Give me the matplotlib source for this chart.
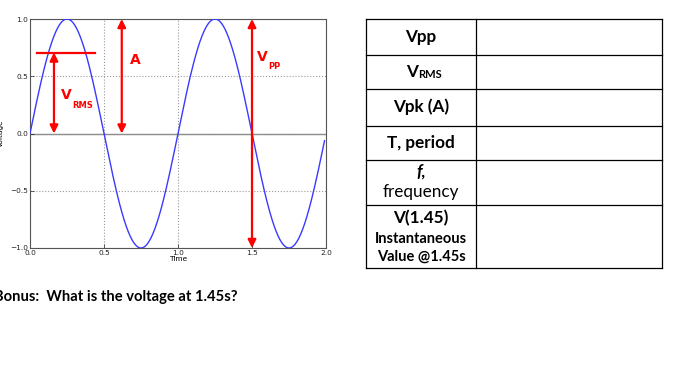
import matplotlib
matplotlib.use("Agg")
import matplotlib.pyplot as plt
import numpy as np

# waveform shown in the chart
amplitude = 1.0
freq_hz = 1.0
t_start, t_end = 0.0, 1.99
v_rms = 0.707

xticks = [0.0, 0.5, 1.0, 1.5, 2.0]
yticks = [-1.0, -0.5, 0.0, 0.5, 1.0]

# table rows (left column text)
row_edges = [19, 55, 89, 126, 160, 205, 268]

red = "#ff0000"
W, H = 680, 373

fig = plt.figure(figsize=(6.8, 3.73), dpi=100)
ax = fig.add_axes([30 / W, 1 - 248 / H, 296 / W, 229 / H])

t = np.linspace(t_start, t_end, 600)
v = amplitude * np.sin(2 * np.pi * freq_hz * t)
ax.plot(t, v, color="#3a3aff", lw=1.0, zorder=3)

ax.set_xlim(0, 2)
ax.set_ylim(-1, 1)
ax.set_xticks(xticks)
ax.set_yticks(yticks)
ax.grid(True, color="#999999", linestyle=":", linewidth=0.8)
ax.axhline(0, color="#888888", lw=1.0, zorder=1)
ax.tick_params(labelsize=5.3, direction="in", length=3, width=0.5, pad=1.5, colors="#222222")
for s in ax.spines.values():
    s.set_color("#555555")
    s.set_linewidth(0.8)
ax.set_xlabel("Time", fontsize=5.3, labelpad=0)
ax.set_ylabel("Voltage", fontsize=5.3, labelpad=4)

aprops = dict(arrowstyle="<|-|>", color=red, lw=1.6, mutation_scale=12, shrinkA=0, shrinkB=0)
# V_RMS
ax.annotate("", xy=(0.162, v_rms), xytext=(0.162, 0), arrowprops=aprops, zorder=4)
ax.plot([0.05, 0.44], [v_rms, v_rms], color=red, lw=1.6, zorder=4)
ax.text(0.21, 0.30, "V", color=red, fontsize=10, fontweight="bold", va="baseline")
ax.text(0.285, 0.22, "RMS", color=red, fontsize=6, fontweight="bold", va="baseline")
# A
ax.annotate("", xy=(0.62, 1.0), xytext=(0.62, 0), arrowprops=aprops, zorder=4)
ax.text(0.675, 0.61, "A", color=red, fontsize=10, fontweight="bold", va="baseline")
# V_PP
ax.annotate("", xy=(1.5, 1.0), xytext=(1.5, -1.0), arrowprops=aprops, zorder=4)
ax.text(1.535, 0.635, "V", color=red, fontsize=10, fontweight="bold", va="baseline")
ax.text(1.61, 0.56, "PP", color=red, fontsize=6, fontweight="bold", va="baseline")

# table drawn in figure pixel coordinates
tab = fig.add_axes([0, 0, 1, 1])
tab.set_xlim(0, W)
tab.set_ylim(H, 0)
tab.axis("off")
tab.patch.set_alpha(0)
x0, xm, x1 = 366, 476, 662
for y in row_edges:
    tab.plot([x0, x1], [y, y], color="black", lw=0.9)
for x in (x0, xm, x1):
    tab.plot([x, x], [row_edges[0], row_edges[-1]], color="black", lw=0.9)

cx = (x0 + xm) / 2
fam = ["Lato", "DejaVu Sans"]
fs = 12.3
tab.text(cx, 37, "Vpp", ha="center", va="center", fontsize=fs, fontweight="bold", family=fam)
tab.text(cx - 9, 72, "V", ha="center", va="center", fontsize=fs, fontweight="bold", family=fam)
tab.text(cx - 3, 75, "RMS", ha="left", va="center", fontsize=8, fontweight="bold", family=fam)
tab.text(cx, 107, "Vpk (A)", ha="center", va="center", fontsize=fs, fontweight="bold", family=fam)
tab.text(cx, 143, "T, period", ha="center", va="center", fontsize=fs, fontweight="bold", family=fam)
tab.text(cx, 172, "f,", ha="center", va="center", fontsize=fs, fontweight="bold", style="italic", family=fam)
tab.text(cx, 192, "frequency", ha="center", va="center", fontsize=fs, family=fam)
tab.text(cx, 218, "V(1.45)", ha="center", va="center", fontsize=fs, fontweight="bold", family=fam)
tab.text(cx, 239, "Instantaneous", ha="center", va="center", fontsize=10.5, fontweight="bold", family=fam)
tab.text(cx, 257, "Value @1.45s", ha="center", va="center", fontsize=10.5, fontweight="bold", family=fam)

tab.text(-6, 297, "Bonus:  What is the voltage at 1.45s?", ha="left", va="center",
         fontsize=10.6, fontweight="bold", family=fam)

fig.savefig("out.png", dpi=100)
